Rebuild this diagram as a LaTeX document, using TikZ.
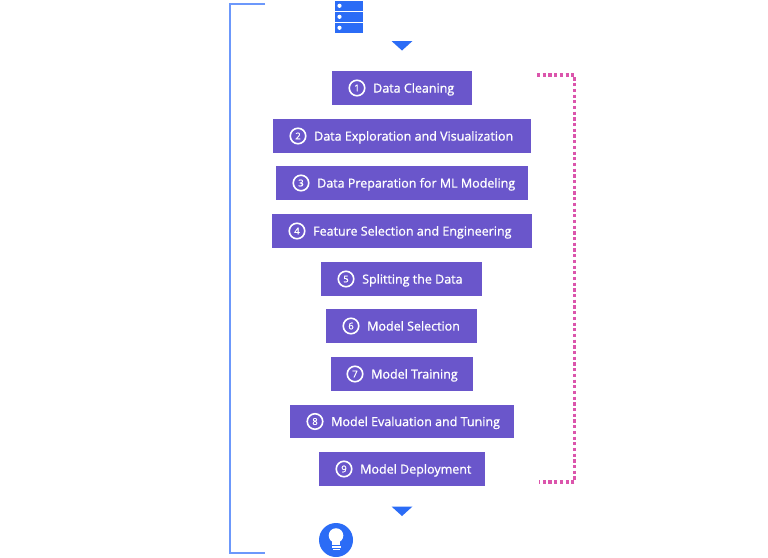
\documentclass[tikz,border=0pt]{standalone}
\usepackage{fontspec}
\newfontfamily\lblfont{Open Sans}[FakeBold=1.1]
\usetikzlibrary{calc}
\definecolor{boxc}{HTML}{6A56CB}
\definecolor{iconc}{HTML}{2B6CF6}
\definecolor{brk}{HTML}{6C98FB}
\definecolor{pinkc}{HTML}{DB55AC}
\tikzset{
  x=1pt,y=-1pt,
  stepbox/.style={fill=boxc,draw=none,inner sep=0pt,minimum height=34pt},
  numc/.style={circle,draw=white,line width=1.6pt,minimum size=15.5pt,inner sep=0pt,text=white,font=\lblfont\fontsize{9.5}{10}\selectfont},
  lbl/.style={anchor=base west,inner sep=0pt,text=white,font=\lblfont\fontsize{12.5}{15}\selectfont},
  tri/.style={fill=iconc,draw=none},
  bracket/.style={draw=brk,line width=1.5pt},
  dots/.style={draw=pinkc,line width=3.4pt,dash pattern=on 3.2pt off 2.5pt},
}
\newcommand{\stepitem}[8]{% id x1 y1 x2 y2 cx tx text
  \node[stepbox,minimum width={#4-#2 pt},minimum height={#5-#3 pt}] (box#1) at ({(#2+#4)/2},{(#3+#5)/2}) {};
  \node[numc] (num#1) at (#6,{(#3+#5)/2}) {#1};
  \node[lbl] (txt#1) at (#7,{(#3+#5)/2+4.6}) {#8};
}
\begin{document}
\begin{tikzpicture}
\useasboundingbox (0,0) rectangle (768,557);
\fill[white] (0,0) rectangle (768,557);
% left bracket
\coordinate (bl1) at (265,4);
\coordinate (bl2) at (230,4);
\coordinate (bl3) at (230,553);
\coordinate (bl4) at (265,553);
\draw[bracket] (bl1) -- (bl2) -- (bl3) -- (bl4);
% server icon
\foreach \y in {1,12,23}{
  \fill[iconc] (334.5,\y) rectangle (363,\y+9.6);
  \fill[white] (339.5,\y+4.8) circle (2.1);
}
% arrows
\fill[tri] (391.5,41) -- (412.5,41) -- (402,50.5) -- cycle;
\fill[tri] (391.5,506.5) -- (412.5,506.5) -- (402,516) -- cycle;
% steps
\stepitem{1}{332}{71}{472}{105}{357}{373}{Data Cleaning}
\stepitem{2}{273}{119}{531}{153}{298}{314}{Data Exploration and Visualization}
\stepitem{3}{276}{166}{528}{200}{301}{317}{Data Preparation for ML Modeling}
\stepitem{4}{272}{214}{532}{248}{297}{313}{Feature Selection and Engineering}
\stepitem{5}{321}{262}{482}{296}{346}{362}{Splitting the Data}
\stepitem{6}{326}{309}{477}{343}{351}{367}{Model Selection}
\stepitem{7}{331}{357}{473}{391}{355}{371}{Model Training}
\stepitem{8}{290}{405}{514}{438}{315}{331}{Model Evaluation and Tuning}
\stepitem{9}{319}{452}{485}{486}{344}{360}{Model Deployment}
% pink dotted bracket
\coordinate (pk1) at (537,75);
\coordinate (pk2) at (574.5,75);
\coordinate (pk3) at (574.5,482);
\coordinate (pk4) at (539,482);
\draw[dots] (pk1) -- (pk2) -- (pk3) -- (pk4);
% bulb icon
\fill[iconc] (336,540) circle (17);
\fill[white] (336,535.5) circle (7.3);
\fill[white] (332.3,539) rectangle (339.7,545);
\fill[white] (331.5,546.2) rectangle (340.5,547.6);
\fill[white] (332.5,549) rectangle (339.5,550.3);
\end{tikzpicture}
\end{document}
